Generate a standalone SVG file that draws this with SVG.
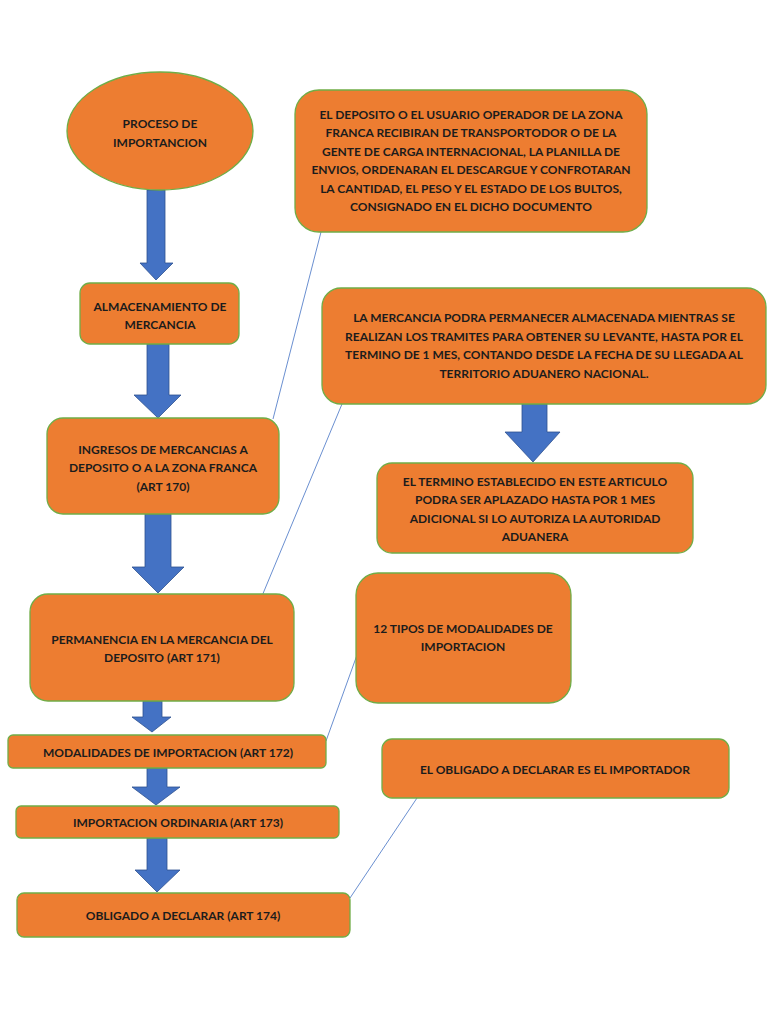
<svg xmlns="http://www.w3.org/2000/svg" width="768" height="1024" viewBox="0 0 768 1024">
<style>
.n{fill:#ED7D31;stroke:#70AD47;stroke-width:1.3}
.t{font-family:Lato,"Liberation Sans",sans-serif;font-weight:bold;font-size:12px;fill:#1c1c1c;text-anchor:middle}
.a{fill:#4472C4;stroke:#2F528F;stroke-width:0.8}
.c{fill:none;stroke:#4472C4;stroke-width:0.8}
</style>
<rect width="768" height="1024" fill="#ffffff"/>
<g id="connectors">
<line class="c" x1="321" y1="232" x2="273" y2="419"/>
<line class="c" x1="342" y1="404" x2="257" y2="608"/>
<line class="c" x1="357" y1="655" x2="326" y2="741"/>
<line class="c" x1="417" y1="798" x2="350" y2="898"/>
<polygon class="a" points="147,190 165,190 165,263 173,263 156,280 140,263 147,263"/>
<polygon class="a" points="147,344 169,344 169,395 181,395 158,418 134,395 147,395"/>
<polygon class="a" points="145,514 171,514 171,567 184,567 158,593 132,567 145,567"/>
<polygon class="a" points="143,701 162,701 162,717 171,717 152,732 132,717 143,717"/>
<polygon class="a" points="147,768 167,768 167,787 180,787 156,805 132,787 147,787"/>
<polygon class="a" points="147,838 167,838 167,870 180,870 157,892 135,870 147,870"/>
<polygon class="a" points="522,404 547,404 547,432 560,432 533,462 505,432 522,432"/>
</g>
<g id="proceso">
<ellipse class="n" cx="160" cy="131" rx="93" ry="59"/>
<text class="t" x="160" y="127.5">PROCESO DE</text>
<text class="t" x="160" y="146.5">IMPORTANCION</text>
</g>
<g id="almacenamiento">
<rect class="n" x="80" y="283" width="159" height="61" rx="10"/>
<text class="t" x="160" y="310.5">ALMACENAMIENTO DE</text>
<text class="t" x="160" y="328.5">MERCANCIA</text>
</g>
<g id="ingresos">
<rect class="n" x="47" y="418" width="232" height="96" rx="16"/>
<text class="t" x="163" y="453.5">INGRESOS DE MERCANCIAS A</text>
<text class="t" x="163" y="472">DEPOSITO O A LA ZONA FRANCA</text>
<text class="t" x="163" y="490.5">(ART 170)</text>
</g>
<g id="permanencia">
<rect class="n" x="30" y="594" width="264" height="107" rx="18"/>
<text class="t" x="162" y="643.5">PERMANENCIA EN LA MERCANCIA DEL</text>
<text class="t" x="162" y="662">DEPOSITO (ART 171)</text>
</g>
<g id="modalidades">
<rect class="n" x="8" y="735" width="318" height="33" rx="5"/>
<text class="t" x="168" y="757">MODALIDADES DE IMPORTACION (ART 172)</text>
</g>
<g id="ordinaria">
<rect class="n" x="16" y="806" width="323" height="32" rx="5"/>
<text class="t" x="178" y="826.5">IMPORTACION ORDINARIA (ART 173)</text>
</g>
<g id="obligado">
<rect class="n" x="17" y="893" width="333" height="44" rx="7"/>
<text class="t" x="183" y="919.5">OBLIGADO A DECLARAR (ART 174)</text>
</g>
<g id="deposito">
<rect class="n" x="295" y="90" width="352" height="142" rx="24"/>
<text class="t" x="471" y="118.5">EL DEPOSITO O EL USUARIO OPERADOR DE LA ZONA</text>
<text class="t" x="471" y="137">FRANCA RECIBIRAN DE TRANSPORTODOR O DE LA</text>
<text class="t" x="471" y="155.5">GENTE DE CARGA INTERNACIONAL, LA PLANILLA DE</text>
<text class="t" x="471" y="174">ENVIOS, ORDENARAN EL DESCARGUE Y CONFROTARAN</text>
<text class="t" x="471" y="192.5">LA CANTIDAD, EL PESO Y EL ESTADO DE LOS BULTOS,</text>
<text class="t" x="471" y="211">CONSIGNADO EN EL DICHO DOCUMENTO</text>
</g>
<g id="mercancia">
<rect class="n" x="322" y="288" width="444" height="116" rx="19"/>
<text class="t" x="544" y="322">LA MERCANCIA PODRA PERMANECER ALMACENADA MIENTRAS SE</text>
<text class="t" x="544" y="340.5">REALIZAN LOS TRAMITES PARA OBTENER SU LEVANTE, HASTA POR EL</text>
<text class="t" x="544" y="359">TERMINO DE 1 MES, CONTANDO DESDE LA FECHA DE SU LLEGADA AL</text>
<text class="t" x="544" y="377.5">TERRITORIO ADUANERO NACIONAL.</text>
</g>
<g id="termino">
<rect class="n" x="377" y="463" width="316" height="90" rx="15"/>
<text class="t" x="535" y="485.5">EL TERMINO ESTABLECIDO EN ESTE ARTICULO</text>
<text class="t" x="535" y="504">PODRA SER APLAZADO HASTA POR 1 MES</text>
<text class="t" x="535" y="522.5">ADICIONAL SI LO AUTORIZA LA AUTORIDAD</text>
<text class="t" x="535" y="541">ADUANERA</text>
</g>
<g id="tipos">
<rect class="n" x="356" y="573" width="215" height="130" rx="22"/>
<text class="t" x="463" y="632.5">12 TIPOS DE MODALIDADES DE</text>
<text class="t" x="463" y="651">IMPORTACION</text>
</g>
<g id="importador">
<rect class="n" x="382" y="739" width="347" height="59" rx="10"/>
<text class="t" x="555" y="773.5">EL OBLIGADO A DECLARAR ES EL IMPORTADOR</text>
</g>
</svg>
